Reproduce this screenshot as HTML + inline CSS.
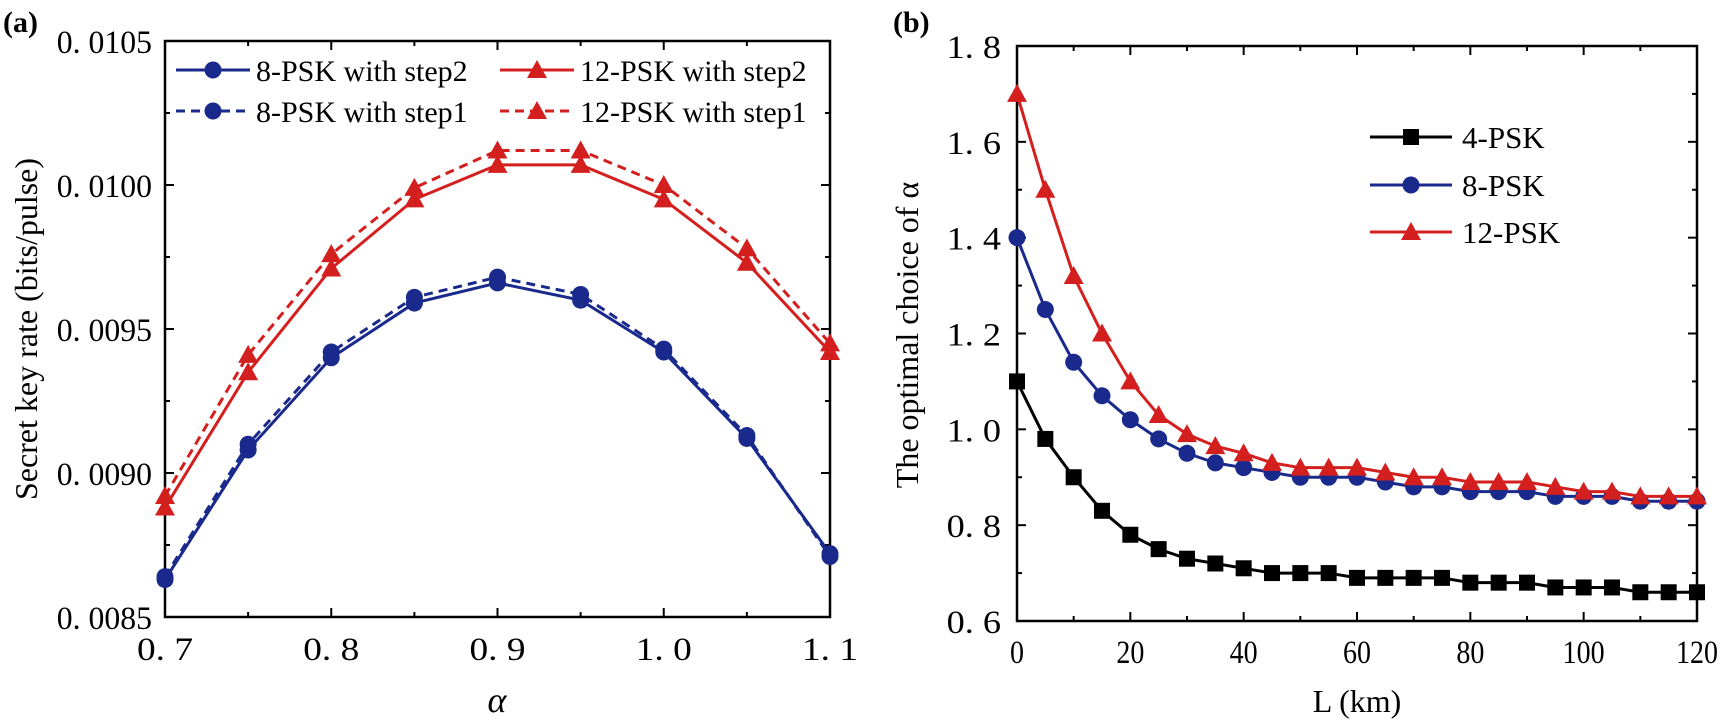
<!DOCTYPE html>
<html><head><meta charset="utf-8"><style>
html,body{margin:0;padding:0;background:#fff;}
svg{display:block;font-family:"Liberation Serif",serif;}
</style></head><body>
<svg id="s" width="1724" height="727" xmlns="http://www.w3.org/2000/svg"></svg>
<script>
const s=document.getElementById('s');let h='';
function ax(L,R,T,B,xt,xl,yt,yl,xm,ym,lx,ly){
  h+=`<rect x="${L}" y="${T}" width="${R-L}" height="${B-T}" fill="none" stroke="#000" stroke-width="2.5"/>`;
  xt.forEach((x,i)=>{h+=`<line x1="${x}" y1="${B}" x2="${x}" y2="${B-9}" stroke="#000" stroke-width="2"/><line x1="${x}" y1="${T}" x2="${x}" y2="${T+9}" stroke="#000" stroke-width="2"/>`;
    const w=xl[i].length*14;
    h+=`<text x="${x}" y="${lx}" font-size="33" text-anchor="middle" textLength="${w}" lengthAdjust="spacingAndGlyphs">${xl[i]}</text>`;});
  xm.forEach(x=>{h+=`<line x1="${x}" y1="${B}" x2="${x}" y2="${B-5}" stroke="#000" stroke-width="2"/><line x1="${x}" y1="${T}" x2="${x}" y2="${T+5}" stroke="#000" stroke-width="2"/>`;});
  yt.forEach((y,i)=>{h+=`<line x1="${L}" y1="${y}" x2="${L+9}" y2="${y}" stroke="#000" stroke-width="2"/><line x1="${R}" y1="${y}" x2="${R-9}" y2="${y}" stroke="#000" stroke-width="2"/>`;
    const w=yl[i].length*13.6;
    h+=`<text x="${ly}" y="${y+12}" font-size="33" text-anchor="end" textLength="${w}" lengthAdjust="spacingAndGlyphs">${yl[i]}</text>`;});
  ym.forEach(y=>{h+=`<line x1="${L}" y1="${y}" x2="${L+5}" y2="${y}" stroke="#000" stroke-width="2"/><line x1="${R}" y1="${y}" x2="${R-5}" y2="${y}" stroke="#000" stroke-width="2"/>`;});
}
function mk(t,x,y,c){
  if(t=='c')return `<circle cx="${x}" cy="${y}" r="8.5" fill="${c}"/>`;
  if(t=='t')return `<polygon points="${x},${y-10} ${x-10},${y+8} ${x+10},${y+8}" fill="${c}"/>`;
  return `<rect x="${x-8}" y="${y-8}" width="16" height="16" fill="${c}"/>`;
}
function ser(px,py,c,t,dash){
  h+=`<polyline points="${px.map((x,i)=>x+','+py[i]).join(' ')}" fill="none" stroke="${c}" stroke-width="3" ${dash?'stroke-dasharray="9,6"':''}/>`;
  px.forEach((x,i)=>h+=mk(t,x,py[i],c));
}
let aL=165,aR=830,aT=41,aB=617;
const ax_=a=>aL+(a-0.7)/0.4*(aR-aL), ay=v=>aB-(v-0.0085)/0.002*(aB-aT);
ax(aL,aR,aT,aB,[0.7,0.8,0.9,1.0,1.1].map(ax_),['0. 7','0. 8','0. 9','1. 0','1. 1'],
  [0.0085,0.009,0.0095,0.01,0.0105].map(ay),['0. 0085','0. 0090','0. 0095','0. 0100','0. 0105'],
  [0.75,0.85,0.95,1.05].map(ax_),[0.00875,0.00925,0.00975,0.01025].map(ay),660,152);
const A=[0.7,0.75,0.8,0.85,0.9,0.95,1.0,1.05,1.1].map(ax_);
ser(A,[0.00864,0.0091,0.00942,0.00961,0.00968,0.00962,0.00943,0.00913,0.00871].map(ay),'#1a2a8c','c',1);
ser(A,[0.00863,0.00908,0.0094,0.00959,0.00966,0.0096,0.00942,0.00912,0.00872].map(ay),'#1a2a8c','c',0);
ser(A,[0.00892,0.00941,0.00976,0.00999,0.01012,0.01012,0.01,0.00978,0.00945].map(ay),'#d41f1f','t',1);
ser(A,[0.00888,0.00935,0.00971,0.00995,0.01007,0.01007,0.00995,0.00973,0.00942].map(ay),'#d41f1f','t',0);
[[176,70,'#1a2a8c','c',0,'8-PSK with step2'],[176,111,'#1a2a8c','c',1,'8-PSK with step1'],
 [500,70,'#d41f1f','t',0,'12-PSK with step2'],[500,111,'#d41f1f','t',1,'12-PSK with step1']].forEach(l=>{
  h+=`<line x1="${l[0]}" y1="${l[1]}" x2="${l[0]+74}" y2="${l[1]}" stroke="${l[2]}" stroke-width="3" ${l[4]?'stroke-dasharray="9,6"':''}/>`+mk(l[3],l[0]+37,l[1],l[2]);
  h+=`<text x="${l[0]+80}" y="${l[1]+11}" font-size="30">${l[5]}</text>`;});
h+=`<text x="497" y="712" font-size="36" font-style="italic" text-anchor="middle">α</text>`;
h+=`<text transform="translate(37,329) rotate(-90)" font-size="32" text-anchor="middle">Secret key rate (bits/pulse)</text>`;
h+=`<text x="3" y="32" font-size="30" font-weight="bold">(a)</text>`;
let bL=1017,bR=1697,bT=46,bB=621;
const bx=v=>bL+v/120*(bR-bL), by=v=>bB-(v-0.6)/1.2*(bB-bT);
ax(bL,bR,bT,bB,[0,20,40,60,80,100,120].map(bx),['0','20','40','60','80','100','120'],
  [0.6,0.8,1.0,1.2,1.4,1.6,1.8].map(by),['0. 6','0. 8','1. 0','1. 2','1. 4','1. 6','1. 8'],
  [10,30,50,70,90,110].map(bx),[0.7,0.9,1.1,1.3,1.5,1.7].map(by),663,1001);
const X=[];for(let i=0;i<=120;i+=5)X.push(bx(i));
ser(X,[1.10,0.98,0.90,0.83,0.78,0.75,0.73,0.72,0.71,0.70,0.70,0.70,0.69,0.69,0.69,0.69,0.68,0.68,0.68,0.67,0.67,0.67,0.66,0.66,0.66].map(by),'#000','s',0);
ser(X,[1.40,1.25,1.14,1.07,1.02,0.98,0.95,0.93,0.92,0.91,0.90,0.90,0.90,0.89,0.88,0.88,0.87,0.87,0.87,0.86,0.86,0.86,0.85,0.85,0.85].map(by),'#1a2a8c','c',0);
ser(X,[1.70,1.50,1.32,1.20,1.10,1.03,0.99,0.965,0.95,0.93,0.92,0.92,0.92,0.91,0.90,0.90,0.89,0.89,0.89,0.88,0.87,0.87,0.86,0.86,0.86].map(by),'#d41f1f','t',0);
[[137,'#000','s','4-PSK'],[185,'#1a2a8c','c','8-PSK'],[232,'#d41f1f','t','12-PSK']].forEach(l=>{
  h+=`<line x1="1370" y1="${l[0]}" x2="1452" y2="${l[0]}" stroke="${l[1]}" stroke-width="3"/>`+mk(l[2],1411,l[0],l[1]);
  h+=`<text x="1462" y="${l[0]+11}" font-size="31">${l[3]}</text>`;});
h+=`<text x="1357" y="712" font-size="32" text-anchor="middle">L (km)</text>`;
h+=`<text transform="translate(918,335) rotate(-90)" font-size="32" text-anchor="middle">The optimal choice of α</text>`;
h+=`<text x="893" y="32" font-size="30" font-weight="bold">(b)</text>`;
s.innerHTML=h;
</script>
</body></html>
